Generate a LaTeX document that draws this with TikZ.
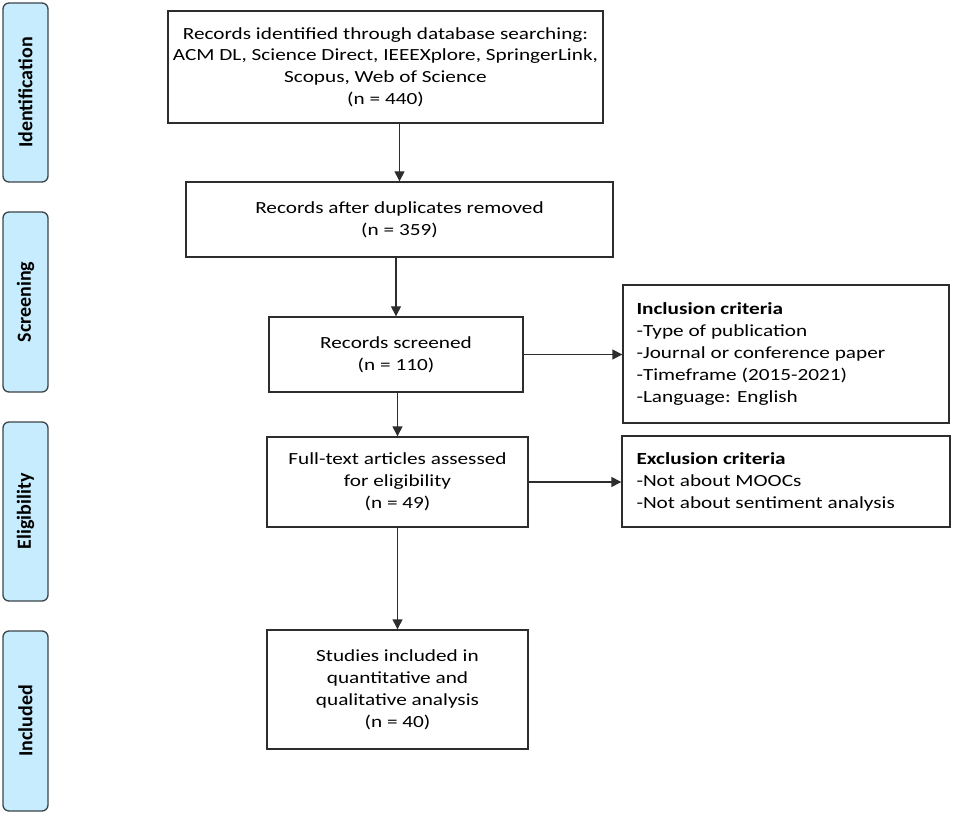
\documentclass[tikz,border=0pt]{standalone}
\usepackage{fontspec}
\setmainfont{Carlito}[FakeStretch=1.25]
\newfontfamily\sidefont{Carlito}
\usetikzlibrary{arrows.meta}
\definecolor{boxline}{RGB}{45,45,45}
\definecolor{sidefill}{RGB}{198,236,253}
\definecolor{sideline}{RGB}{60,68,72}
\begin{document}
\begin{tikzpicture}[x=1pt,y=-1pt,
  box/.style={draw=boxline,line width=1.4pt,align=center,inner sep=0pt,
    font=\fontsize{17}{22}\selectfont,text=black},
  critbox/.style={draw=boxline,line width=1.4pt,inner sep=0pt},
  crittext/.style={align=left,inner sep=0pt,
    font=\fontsize{17}{22}\selectfont,text=black},
  side/.style={draw=sideline,fill=sidefill,line width=1.3pt,rounded corners=6pt,
    rotate=90,minimum height=45pt,inner sep=0pt,
    font=\sidefont\fontsize{20}{22}\selectfont\bfseries,text=black},
  arr/.style={draw=boxline,line width=1.4pt,-{Triangle[length=10pt,width=10pt]}}
]
\useasboundingbox (0,0) rectangle (962,813);

% phase labels
\node[side,minimum width=179pt] (sId) at (25.5,92.5) {Identification};
\node[side,minimum width=180pt] (sSc) at (25.5,302) {Screening};
\node[side,minimum width=179pt] (sEl) at (25.5,511.5) {Eligibility};
\node[side,minimum width=180pt] (sIn) at (25.5,721) {Included};

% main boxes
\node[box,minimum width=435pt,minimum height=112pt,font=\fontsize{17}{21.7}\selectfont] (b1) at (385.5,67)
  {Records identified through database searching:\\ACM DL, Science Direct, IEEEXplore, SpringerLink,\\Scopus, Web of Science\\(n = 440)};
\node[box,minimum width=427pt,minimum height=75pt] (b2) at (399.5,219.5)
  {Records after duplicates removed\\(n = 359)};
\node[box,minimum width=254pt,minimum height=75pt] (b3) at (396,354.5)
  {Records screened\\(n = 110)};
\node[box,minimum width=261pt,minimum height=90pt] (b4) at (397.5,482)
  {Full-text articles assessed\\for eligibility\\(n = 49)};
\node[box,minimum width=261pt,minimum height=119pt] (b5) at (397.5,689.5)
  {Studies included in\\quantitative and\\qualitative analysis\\(n = 40)};

% criteria boxes
\node[critbox,minimum width=326pt,minimum height=138pt] (inc) at (786,354) {};
\node[crittext,anchor=west] (inct) at ([xshift=14pt]inc.west)
  {\textbf{Inclusion criteria}\\-Type of publication\\-Journal or conference paper\\-Timeframe (2015-2021)\\-Language: English};
\node[critbox,minimum width=328pt,minimum height=91pt] (exc) at (786,481.5) {};
\node[crittext,anchor=west] (exct) at ([xshift=15pt]exc.west)
  {\textbf{Exclusion criteria}\\-Not about MOOCs\\-Not about sentiment analysis};

% connectors
\draw[arr] (b1.south -| b2.north) -- (b2.north);
\draw[arr] (b2.south -| b3.north) -- (b3.north);
\draw[arr] (b3.south -| b4.north) -- (b4.north);
\draw[arr] (b4.south) -- (b5.north);
\draw[arr] (b3.east) -- (b3.east -| inc.west);
\draw[arr] (b4.east) -- (b4.east -| exc.west);
\end{tikzpicture}
\end{document}
